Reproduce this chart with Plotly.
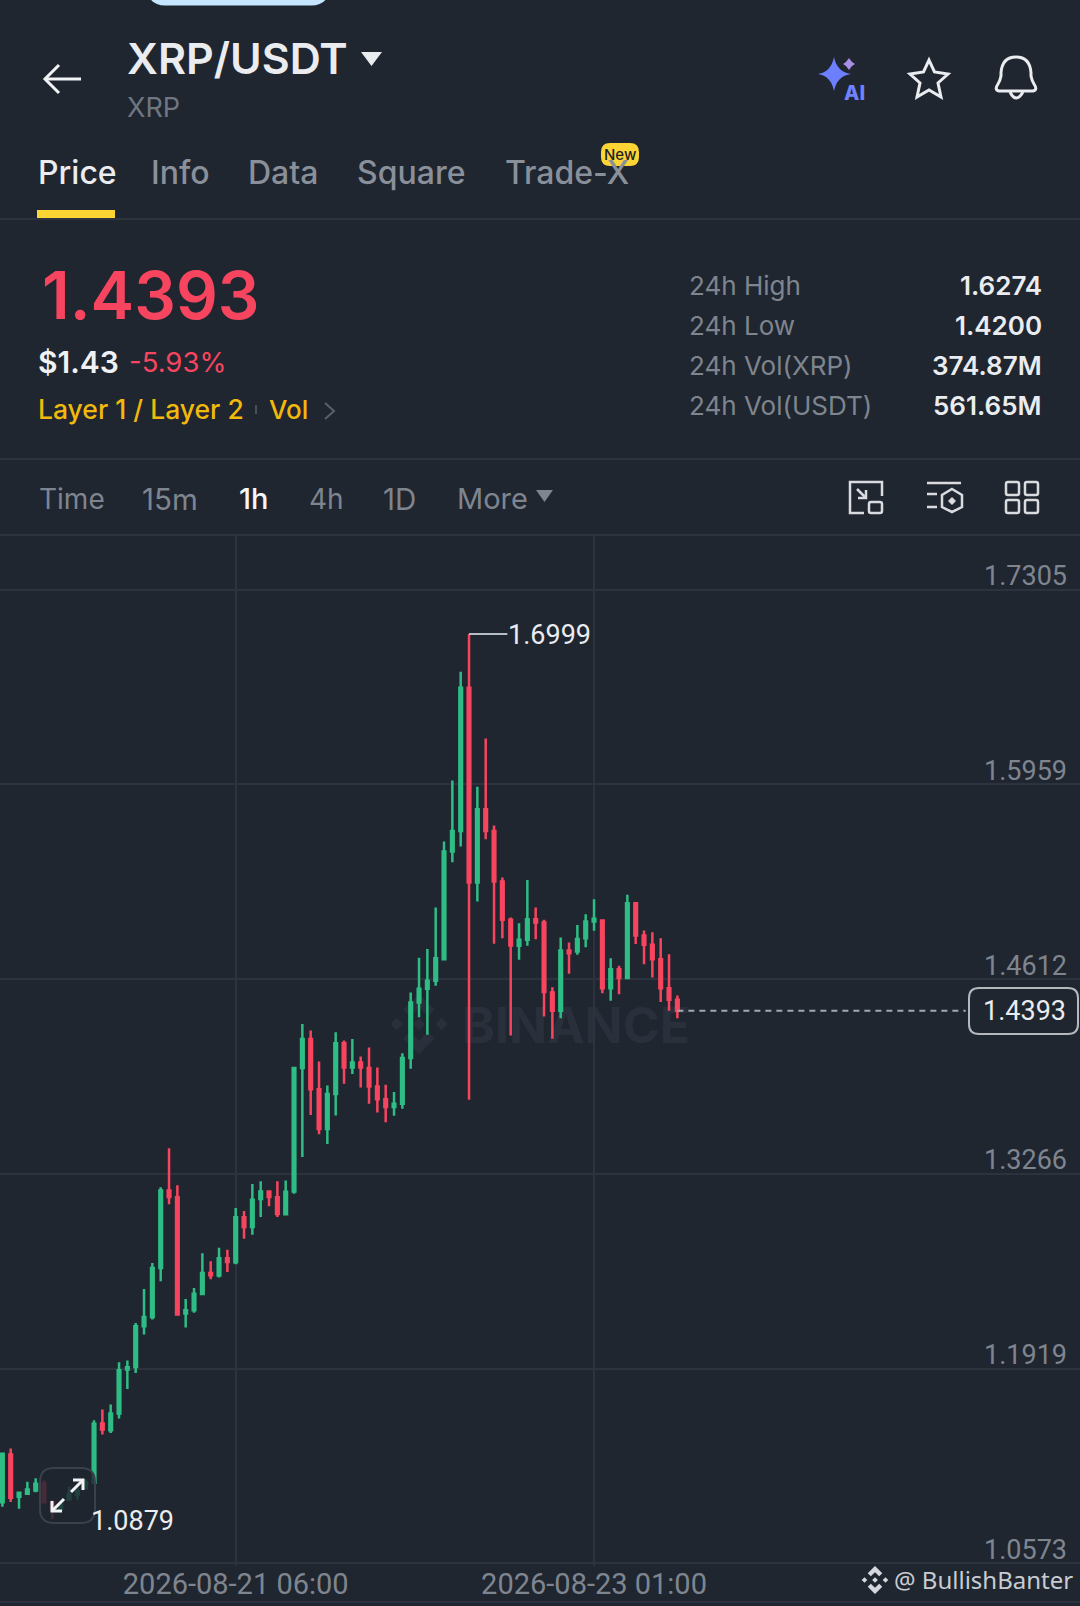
import pandas as pd
import plotly.graph_objects as go

W = 1080
H = 1606

BG = '#1f2630'
GRID = '#2d333e'
GREEN = '#2ebd85'
RED = '#f8455f'
YELLOW = '#fcd535'
MUTED = '#7f858f'
WHITE = '#eaecef'
FONT = 'Inter'
NUM_FONT = 'Roboto'

# hourly candles
times = pd.date_range('2026-08-20 02:00', periods=82, freq='h')
opens = [1.0995, 1.1325, 1.1032, 1.1053, 1.1076, 1.1124, 1.0995, 1.0944, 1.1014, 1.1048,
         1.1094, 1.1129, 1.1539, 1.1493, 1.1608, 1.1912, 1.1930, 1.2212, 1.2276, 1.2615,
         1.3151, 1.3103, 1.2299, 1.2322, 1.2435, 1.2580, 1.2562, 1.2681, 1.2654, 1.2965,
         1.2898, 1.3091, 1.3144, 1.3103, 1.2986, 1.3144, 1.3997, 1.4197, 1.3851, 1.3575,
         1.3817, 1.4169, 1.4001, 1.4036, 1.3997, 1.3870, 1.3782, 1.3727, 1.3750, 1.4066,
         1.4450, 1.4545, 1.4600, 1.4750, 1.5494, 1.5637, 1.6627, 1.5280, 1.5787, 1.5637,
         1.5287, 1.5022, 1.4842, 1.4884, 1.5026, 1.5003, 1.4520, 1.4393, 1.4810, 1.4803,
         1.4895, 1.5010, 1.5017, 1.4549, 1.4681, 1.4619, 1.5137, 1.4913, 1.4849, 1.4750,
         1.4549, 1.4469]
highs = [1.1336, 1.1366, 1.1064, 1.1136, 1.1161, 1.1145, 1.1010, 1.0990, 1.1101, 1.1094,
         1.1152, 1.1562, 1.1636, 1.1670, 1.1963, 1.1974, 1.2234, 1.2469, 1.2649, 1.3172,
         1.3442, 1.3186, 1.2400, 1.2476, 1.2716, 1.2661, 1.2755, 1.2741, 1.3029, 1.3009,
         1.3195, 1.3214, 1.3144, 1.3214, 1.3220, 1.4001, 1.4301, 1.4257, 1.4043, 1.3877,
         1.4245, 1.4188, 1.4197, 1.4077, 1.4139, 1.4001, 1.3881, 1.3831, 1.4100, 1.4519,
         1.4759, 1.4821, 1.5107, 1.5563, 1.5985, 1.6738, 1.6999, 1.5943, 1.6275, 1.5674,
         1.5314, 1.5038, 1.4999, 1.5298, 1.5107, 1.5022, 1.4556, 1.4900, 1.4865, 1.4987,
         1.5061, 1.5165, 1.5017, 1.4757, 1.4704, 1.5195, 1.5142, 1.4948, 1.4936, 1.4895,
         1.4784, 1.4499]
lows = [1.0963, 1.0997, 1.0949, 1.1044, 1.1064, 1.0991, 1.0879, 1.0930, 1.1007, 1.1014,
        1.1083, 1.1117, 1.1463, 1.1474, 1.1573, 1.1778, 1.1889, 1.2154, 1.2258, 1.2522,
        1.3055, 1.2288, 1.2202, 1.2304, 1.2430, 1.2536, 1.2548, 1.2587, 1.2640, 1.2817,
        1.2845, 1.2967, 1.3041, 1.2967, 1.2981, 1.3128, 1.3382, 1.3672, 1.3540, 1.3471,
        1.3669, 1.3888, 1.3955, 1.3863, 1.3750, 1.3690, 1.3623, 1.3667, 1.3715, 1.3992,
        1.4349, 1.4227, 1.4566, 1.4745, 1.5420, 1.5529, 1.3778, 1.5148, 1.5579, 1.4856,
        1.4895, 1.4222, 1.4745, 1.4842, 1.4888, 1.4354, 1.4199, 1.4342, 1.4649, 1.4780,
        1.4833, 1.4946, 1.4515, 1.4462, 1.4508, 1.4619, 1.4854, 1.4715, 1.4623, 1.4453,
        1.4393, 1.4342]
closes = [1.1329, 1.1025, 1.1060, 1.1083, 1.1122, 1.0995, 1.0937, 1.0978, 1.1048, 1.1071,
          1.1133, 1.1537, 1.1497, 1.1608, 1.1907, 1.1928, 1.2212, 1.2276, 1.2615, 1.3151,
          1.3105, 1.2292, 1.2322, 1.2437, 1.2580, 1.2564, 1.2681, 1.2656, 1.2965, 1.2898,
          1.3087, 1.3144, 1.3105, 1.2988, 1.3142, 1.3997, 1.4197, 1.3851, 1.3575, 1.3817,
          1.4169, 1.4001, 1.4036, 1.4001, 1.3870, 1.3782, 1.3727, 1.3750, 1.4066, 1.4450,
          1.4545, 1.4600, 1.4757, 1.5494, 1.5637, 1.6627, 1.5280, 1.5787, 1.5637, 1.5287,
          1.5022, 1.4844, 1.4884, 1.5026, 1.5003, 1.4522, 1.4393, 1.4810, 1.4791, 1.4890,
          1.5010, 1.5029, 1.4549, 1.4681, 1.4619, 1.5137, 1.4913, 1.4849, 1.4750, 1.4549,
          1.4469, 1.4393]

price_ticks = [1.7305, 1.5959, 1.4612, 1.3266, 1.1919, 1.0573]
price_labels = ['1.7305', '1.5959', '1.4612', '1.3266', '1.1919', '1.0573']
date_ticks = ['2026-08-21 06:00', '2026-08-23 01:00']
date_labels = ['2026-08-21 06:00', '2026-08-23 01:00']

high_label = '1.6999'
low_label = '1.0879'
last_price = 1.4393

tabs = [('Price', 37, WHITE), ('Info', 150, '#8a909a'), ('Data', 246.5, '#8a909a'),
        ('Square', 356, '#8a909a'), ('Trade-X', 504, '#8a909a')]
intervals = [('Time', 38, MUTED, 28), ('15m', 141, MUTED, 29.5), ('1h', 237.5, '#f5f6f7', 29),
             ('4h', 308, MUTED, 28), ('1D', 381.5, MUTED, 29.5), ('More', 456, MUTED, 29)]
stats = [('24h High', '1.6274', 285), ('24h Low', '1.4200', 325),
         ('24h Vol(XRP)', '374.87M', 365), ('24h Vol(USDT)', '561.65M', 405)]


def pt(x, y):
    return f'{x / W:.5f},{1 - y / H:.5f}'


def path(*segments):
    # segments are (command, x, y, ...) in page pixels
    out = []
    for seg in segments:
        cmd, nums = seg[0], seg[1:]
        if cmd == 'Z':
            out.append('Z')
        else:
            coords = ' '.join(pt(nums[i], nums[i + 1]) for i in range(0, len(nums), 2))
            out.append(f'{cmd}{coords}')
    return ' '.join(out)


def poly(points, closed=True):
    segs = [('M', *points[0])] + [('L', *p) for p in points[1:]]
    if closed:
        segs.append(('Z',))
    return path(*segs)


def round_rect(x0, y0, x1, y1, r):
    return path(('M', x0 + r, y0), ('L', x1 - r, y0), ('Q', x1, y0, x1, y0 + r),
                ('L', x1, y1 - r), ('Q', x1, y1, x1 - r, y1), ('L', x0 + r, y1),
                ('Q', x0, y1, x0, y1 - r), ('L', x0, y0 + r), ('Q', x0, y0, x0 + r, y0), ('Z',))


shapes = []
annotations = []


def stroke(d, color='#d9dbdf', width=2.5, fill=None, layer='above'):
    shapes.append(dict(type='path', xref='paper', yref='paper', path=d, layer=layer,
                       line=dict(color=color, width=width), fillcolor=fill))


def solid(d, color, layer='above'):
    shapes.append(dict(type='path', xref='paper', yref='paper', path=d, layer=layer,
                       line=dict(width=0), fillcolor=color))


def hline(y, color=GRID, width=2):
    shapes.append(dict(type='line', xref='paper', yref='paper', x0=0, x1=1,
                       y0=1 - y / H, y1=1 - y / H, line=dict(color=color, width=width), layer='below'))


def text(x, y, s, size, color, anchor='left', weight=400, family=FONT):
    annotations.append(dict(xref='paper', yref='paper', x=x / W, y=1 - y / H, text=s,
                            showarrow=False, xanchor=anchor, yanchor='middle', borderpad=0,
                            font=dict(size=size, color=color, family=family, weight=weight)))


def binance_logo(cx, cy, r, color, layer='above'):
    top = [(0, -1), (.52, -.48), (.30, -.26), (0, -.56), (-.30, -.26), (-.52, -.48)]
    bottom = [(x, -y) for x, y in top]
    for shape in (top, bottom):
        solid(poly([(cx + x * r, cy + y * r) for x, y in shape]), color, layer)
    for dx in (-.75, 0, .75):
        d = .2
        solid(poly([(cx + (dx - d) * r, cy), (cx + dx * r, cy - d * r),
                    (cx + (dx + d) * r, cy), (cx + dx * r, cy + d * r)]), color, layer)


fig = go.Figure()
fig.add_trace(go.Candlestick(
    x=times, open=opens, high=highs, low=lows, close=closes,
    increasing=dict(line=dict(color=GREEN, width=2.5), fillcolor=GREEN),
    decreasing=dict(line=dict(color=RED, width=2.5), fillcolor=RED),
    whiskerwidth=0, showlegend=False, hoverinfo='skip',
))

# status bar pill
solid(round_rect(147.5, -30, 329, 5.5, 18), '#c6e6ff')

# header
stroke(poly([(45, 79), (81, 79)], closed=False), '#f2f3f5', 3)
stroke(poly([(59, 65), (45, 79), (59, 93)], closed=False), '#f2f3f5', 3)
text(126, 58, 'XRP/USDT', 43, WHITE, weight=600)
solid(poly([(361, 52), (382, 52), (371.5, 66)]), WHITE)
text(126, 107, 'XRP', 27, '#6f7681')

# AI sparkle, star and bell
solid(path(('M', 834, 57), ('Q', 837, 72, 851, 74), ('Q', 837, 76, 834, 91),
           ('Q', 831, 76, 818, 74), ('Q', 831, 72, 834, 57), ('Z',)), '#6c80ff')
solid(poly([(849, 58), (852, 62), (855, 64), (852, 66), (849, 70), (846, 66), (843, 64), (846, 62)]), '#a98fe8')
text(854, 93, 'AI', 20, '#6f82ff', anchor='center', weight=800)
stroke(poly([(929, 60), (934.5, 72), (948, 74), (938, 83), (941, 97), (929, 90), (917, 97), (920, 83), (910, 74), (923.5, 72)]),
       '#eaecef', 3)
stroke(path(('M', 999, 91), ('L', 1033, 91), ('Q', 1038, 90, 1034, 84), ('Q', 1032, 81, 1031, 76),
            ('L', 1031, 73), ('Q', 1030, 57, 1016, 57), ('Q', 1002, 57, 1001, 73), ('L', 1001, 76),
            ('Q', 1000, 81, 998, 84), ('Q', 994, 90, 999, 91), ('Z',)), '#eaecef', 3)
stroke(path(('M', 1010, 92), ('Q', 1016, 104, 1023, 92)), '#eaecef', 3)

# tabs
for label, x, color in tabs:
    text(x, 172.5, label, 32, color, weight=500)
solid(round_rect(601, 143, 639, 166, 9), YELLOW)
text(620, 155, 'New', 15, '#1e2329', anchor='center', weight=500)
solid(poly([(37, 210), (115, 210), (115, 218), (37, 218)]), YELLOW)
hline(219)

# price block
text(41, 295, '1.4393', 65.5, RED, weight=600)
text(37, 362, '$1.43', 30, '#f0f1f3', weight=600)
text(128, 362, '-5.93%', 27.5, RED)
text(37, 409, 'Layer 1 / Layer 2', 26.5, '#f0b90b', weight=500)
solid(poly([(255, 405), (257, 405), (257, 414), (255, 414)]), '#4a4f58')
text(268, 409, 'Vol', 26, '#f0b90b', weight=500)
stroke(poly([(325, 403), (334, 411), (325, 419)], closed=False), '#5a606a', 2)
for name, value, y in stats:
    text(688, y, name, 26, MUTED)
    text(1042.5, y, value, 26, WHITE, anchor='right', weight=600)
hline(459)

# interval row
for label, x, color, size in intervals:
    text(x, 498.5, label, size, color, weight=500 if label == '1h' else 400)
solid(poly([(536, 490), (553, 490), (544.5, 502)]), MUTED)
hline(535)

# toolbar icons
stroke(poly([(864, 513), (850, 513), (850, 482), (882, 482), (882, 496)], closed=False))
stroke(round_rect(869, 502, 882, 513, 2))
stroke(poly([(857, 489), (866, 498)], closed=False))
stroke(poly([(858, 498), (866, 498), (866, 490)], closed=False))
stroke(poly([(927, 483), (961, 483)], closed=False))
stroke(poly([(927, 494), (937, 494)], closed=False))
stroke(poly([(927, 507), (937, 507)], closed=False))
stroke(poly([(952, 489), (962, 495), (962, 507), (952, 512), (942, 507), (942, 495)]))
solid(poly([(952, 497), (956, 501), (952, 505), (948, 501)]), '#d9dbdf')
for x0, y0 in [(1006, 482), (1025, 482), (1006, 500), (1025, 500)]:
    stroke(round_rect(x0, y0, x0 + 13, y0 + 13, 2))

# watermark behind the candles
binance_logo(419, 1024, 30, '#2a303b', layer='below')
shapes.append(dict(type='rect', xref='paper', yref='paper', x0=458 / W, x1=694 / W,
                   y0=1 - 1043 / H, y1=1 - 1003 / H, layer='below', line=dict(width=0),
                   label=dict(text='BINANCE', font=dict(size=50, color='#2a303b', family=FONT, weight=700),
                              textposition='middle center')))

# high / low marks
shapes.append(dict(type='line', xref='x', yref='y', x0=times[56], x1=times[56] + pd.Timedelta(hours=4.6),
                   y0=1.6999, y1=1.6999, line=dict(color='#b9bcc2', width=2)))
annotations.append(dict(xref='x', yref='y', x=times[56], y=1.6999, text=high_label, xanchor='left',
                        xshift=38, yshift=-1, showarrow=False, borderpad=0,
                        font=dict(size=27, color=WHITE, family=NUM_FONT)))
annotations.append(dict(xref='x', yref='y', x=times[6], y=1.0879, text=low_label, xanchor='left',
                        xshift=38, yshift=-2, showarrow=False, borderpad=0,
                        font=dict(size=27, color=WHITE, family=NUM_FONT)))

# last price line and box
shapes.append(dict(type='line', xref='x', yref='y', x0=times[81], x1=times[81] + pd.Timedelta(hours=34.6),
                   y0=last_price, y1=last_price, line=dict(color='#a4a8ae', width=2, dash='6px,5px')))
stroke(round_rect(969, 988, 1078, 1034, 10), '#b5b8bd', 2, fill=BG)
text(1024.5, 1011, '1.4393', 27, WHITE, anchor='center', family=NUM_FONT)

# expand button over the candles
stroke(round_rect(40, 1468, 95, 1523, 14), '#3b414c', 2, fill='rgba(31,38,48,0.82)')
stroke(poly([(52, 1511), (64, 1499)], closed=False), '#f2f3f5', 3)
stroke(poly([(71, 1492), (83, 1480)], closed=False), '#f2f3f5', 3)
stroke(poly([(52, 1501), (52, 1511), (62, 1511)], closed=False), '#f2f3f5', 3)
stroke(poly([(73, 1480), (83, 1480), (83, 1490)], closed=False), '#f2f3f5', 3)

# footer attribution
binance_logo(875, 1580, 14, '#d4d7db')
text(893, 1579, '@ BullishBanter', 24, '#c8ccd2', family='Noto Sans')
hline(1602)

fig.update_layout(
    width=W, height=H, margin=dict(l=0, r=0, t=0, b=0),
    paper_bgcolor=BG, plot_bgcolor=BG, showlegend=False, boxgap=0.55,
    font=dict(family=FONT, color=MUTED),
    shapes=shapes, annotations=annotations,
    xaxis=dict(type='date', domain=[0, 1], range=['2026-08-20 01:43', '2026-08-25 11:19'],
               rangeslider=dict(visible=False), tickvals=date_ticks, ticktext=date_labels,
               showgrid=True, gridcolor=GRID, gridwidth=2, zeroline=False, showline=False, ticks='',
               tickfont=dict(size=29, color=MUTED, family=NUM_FONT), ticklabelstandoff=-2),
    # labels sit left of a free axis pinned to the right edge, so the bottom one is not dropped
    yaxis=dict(domain=[(H - 1566) / H, (H - 535) / H], range=[1.05536, 1.7683], side='left',
               anchor='free', position=1, ticklabelposition='outside',
               tickvals=price_ticks, ticktext=price_labels,
               showgrid=True, gridcolor=GRID, gridwidth=2, zeroline=False, showline=False, ticks='',
               tickfont=dict(size=27, color=MUTED, family=NUM_FONT), ticklabelstandoff=13, ticklabelshift=-14),
)

fig.write_html('out.html', config=dict(displayModeBar=False),
               post_script="document.body.style.margin='0';")
